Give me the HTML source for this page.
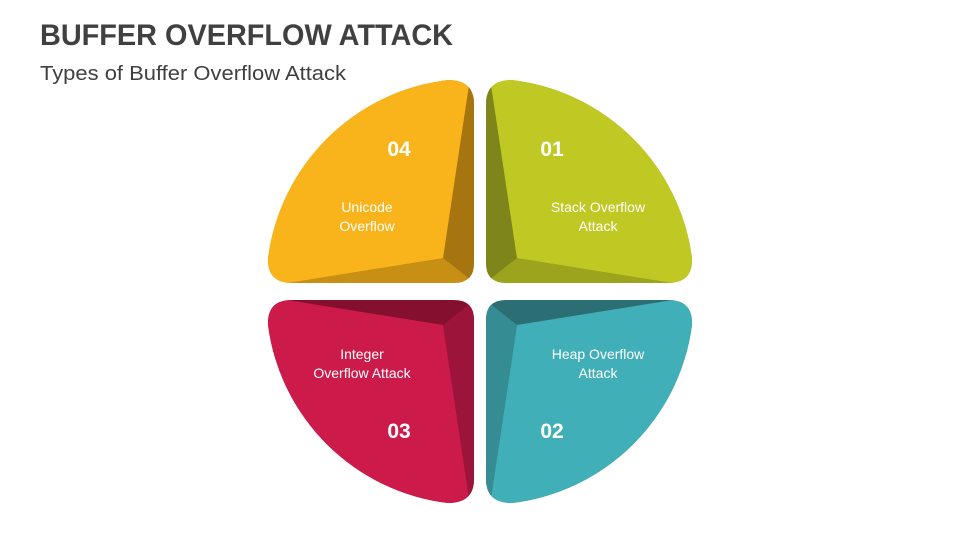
<!DOCTYPE html>
<html><head><meta charset="utf-8"><style>
body{margin:0;width:960px;height:540px;background:#fff;overflow:hidden;font-family:"Liberation Sans",sans-serif}
</style></head><body>
<svg width="960" height="540" viewBox="0 0 960 540" xmlns="http://www.w3.org/2000/svg" style="position:absolute;left:0;top:0">
<defs>
<clipPath id="q"><path d="M448,80 Q474,80 474,104 L474,263 Q474,283 454,283 L292,283 Q267,283 268,258 A206 206 0 0 1 448,80 Z"/></clipPath>
<g id="shape">
  <g clip-path="url(#q)">
    <rect x="200" y="60" width="300" height="240" fill="var(--b)"/>
    <polygon points="443,258 470,78 490,78 490,295" fill="var(--r)"/>
    <polygon points="443,258 470,78 240,60 240,284 275,285" fill="var(--m)"/>
  </g>
</g>
</defs>
<text x="40" y="45" font-family="Liberation Sans, sans-serif" font-weight="bold" font-size="30" fill="#404040" textLength="413" lengthAdjust="spacingAndGlyphs">BUFFER OVERFLOW ATTACK</text>
<text x="40" y="80" font-family="Liberation Sans, sans-serif" font-size="20" fill="#404040" textLength="306" lengthAdjust="spacingAndGlyphs">Types of Buffer Overflow Attack</text>

<use href="#shape" style="--m:#f8b41a;--r:#a6750f;--b:#c78f14"/>
<use href="#shape" transform="translate(960,0) scale(-1,1)" style="--m:#c0c923;--r:#7e851b;--b:#9ca31d"/>
<use href="#shape" transform="translate(0,583) scale(1,-1)" style="--m:#cc1a4a;--r:#9c1439;--b:#85102d"/>
<use href="#shape" transform="translate(960,583) scale(-1,-1)" style="--m:#41afb8;--r:#358c92;--b:#2b6e73"/>

<g font-family="Liberation Sans, sans-serif" fill="#fff" text-anchor="middle">
<text x="399" y="156" font-size="21" font-weight="bold">04</text>
<text x="552" y="156" font-size="21" font-weight="bold">01</text>
<text x="399" y="438" font-size="21" font-weight="bold">03</text>
<text x="552" y="438" font-size="21" font-weight="bold">02</text>
<g font-size="14">
<text x="367" y="212">Unicode</text><text x="367" y="231">Overflow</text>
<text x="598" y="212">Stack Overflow</text><text x="598" y="231">Attack</text>
<text x="362" y="359">Integer</text><text x="362" y="378">Overflow Attack</text>
<text x="598" y="359">Heap Overflow</text><text x="598" y="378">Attack</text>
</g></g>
</svg>
</body></html>
